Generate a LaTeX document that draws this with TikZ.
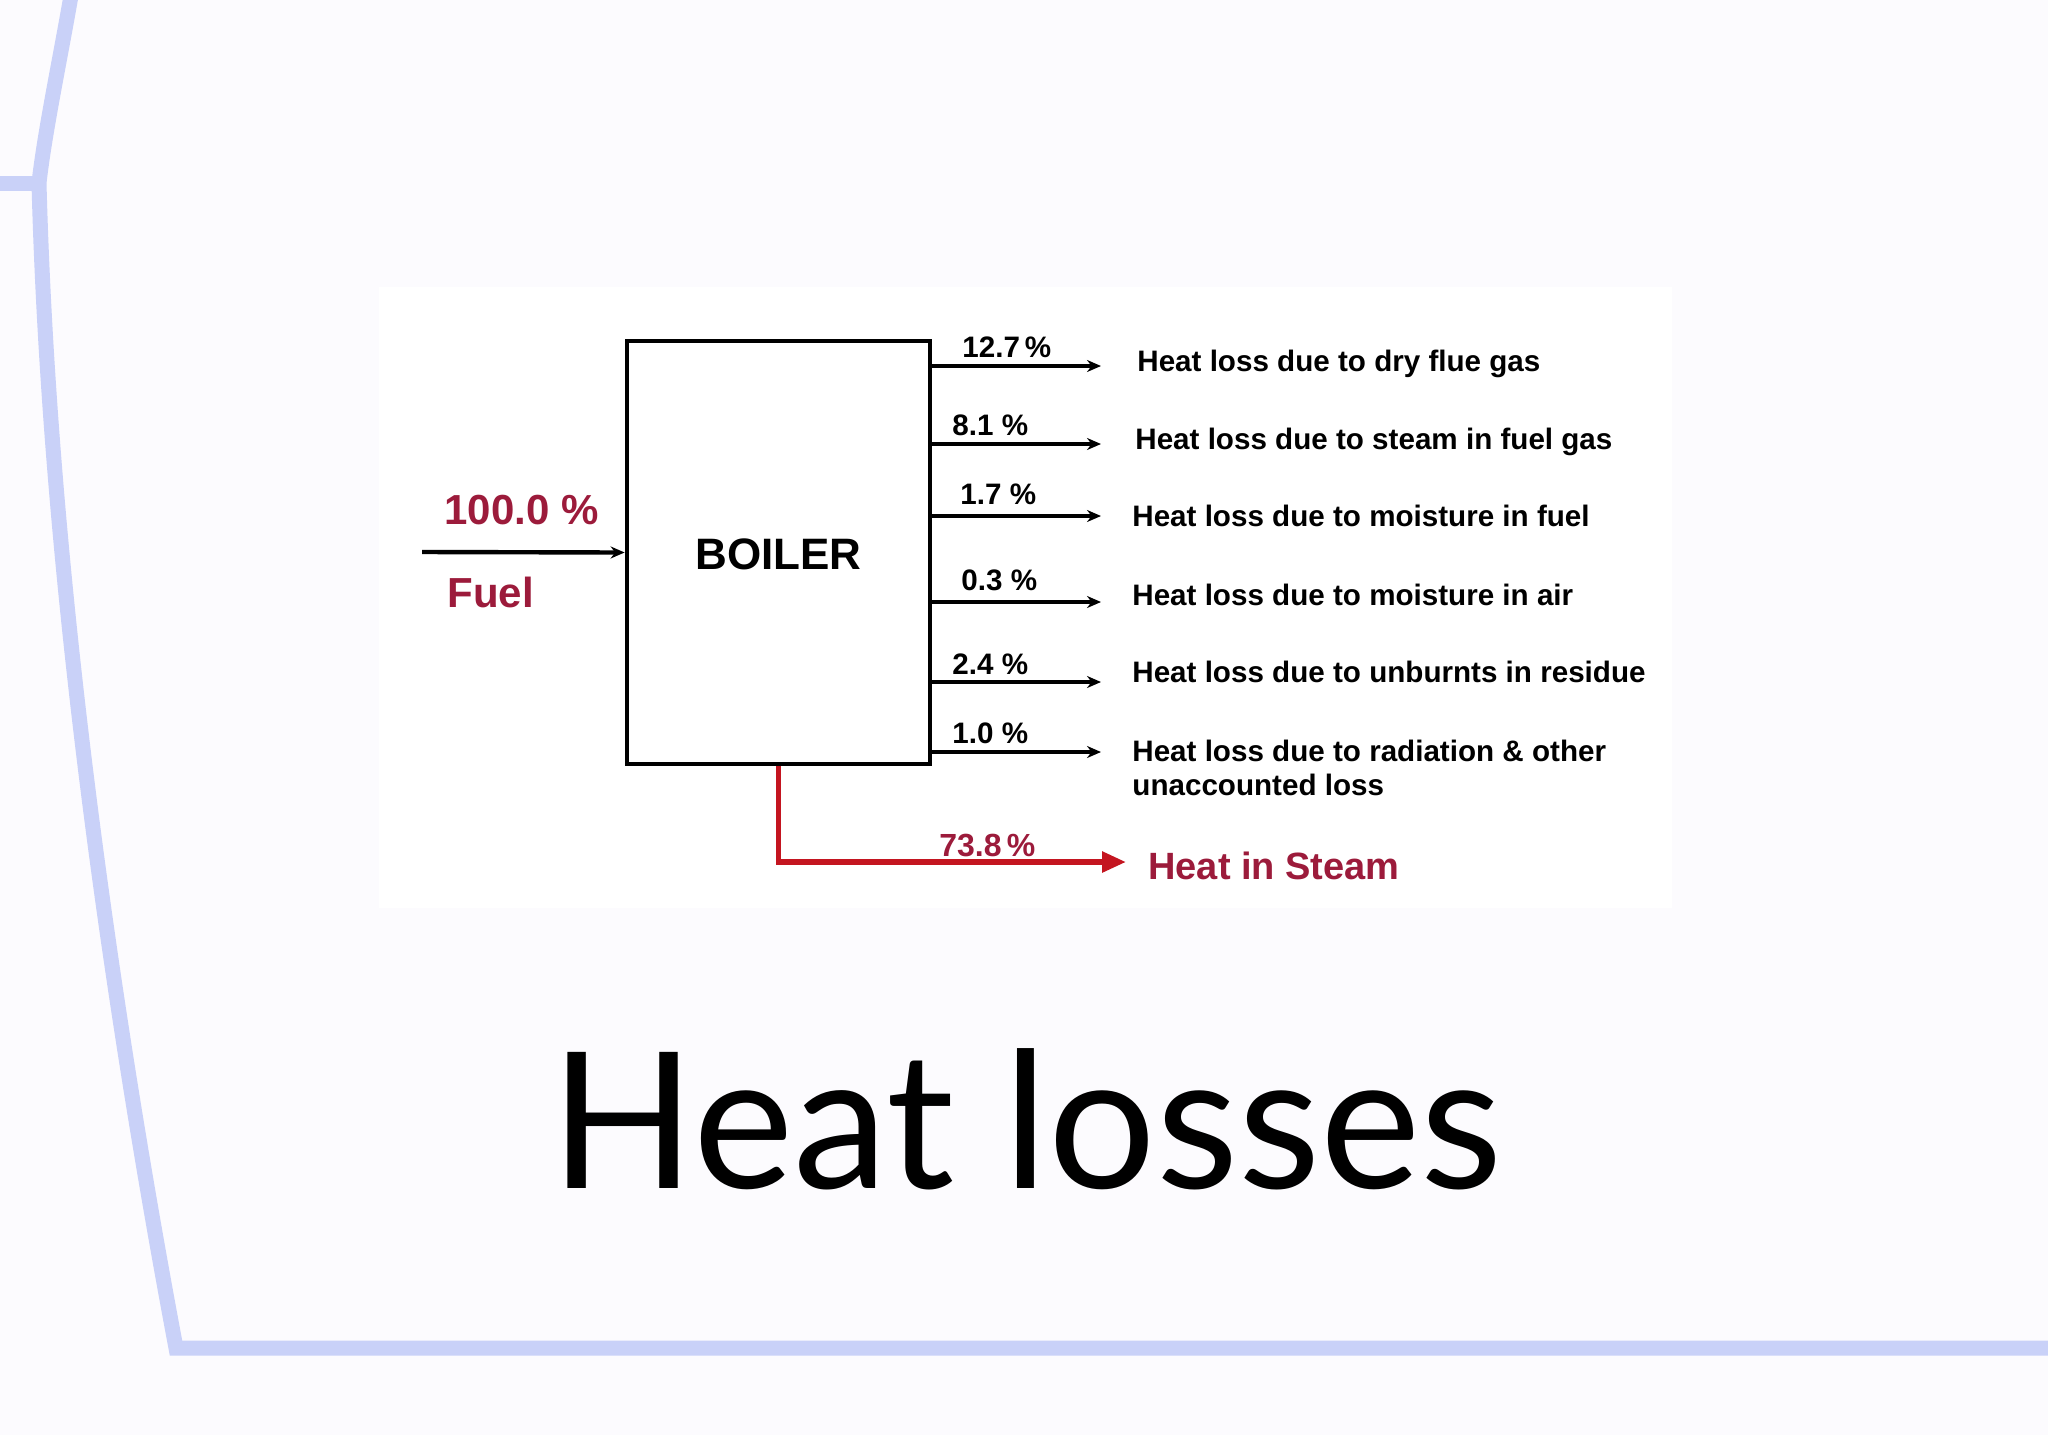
\documentclass[tikz,border=0pt]{standalone}
\usepackage{fontspec}
\setmainfont{Liberation Sans}
\newfontfamily\titlefont{Lato}
\usetikzlibrary{arrows.meta}
\definecolor{bgc}{HTML}{FCFBFE}
\definecolor{framec}{HTML}{C9D1F8}
\definecolor{maroonc}{HTML}{9C1B3B}
\definecolor{steamc}{HTML}{C41520}
\begin{document}
\begin{tikzpicture}[x=0.5pt,y=-0.5pt,
  lbl/.style={font=\bfseries\fontsize{14.8}{17}\selectfont, inner sep=0pt, anchor=base west},
  redlbl/.style={font=\bfseries\fontsize{21}{25}\selectfont, text=maroonc, inner sep=0pt, anchor=base west},
  lossarrow/.style={-{Stealth[length=7pt,width=6pt]}, line width=1.9pt},
  fuelarrow/.style={-{Stealth[length=7pt,width=6pt]}, line width=2.2pt},
  steamarrow/.style={-{Triangle[length=12pt,width=10pt]}, line width=2.8pt, draw=steamc},
  boilerbox/.style={draw, line width=2.4pt, minimum width=151.5pt, minimum height=211.5pt, inner sep=0pt},
  framestroke/.style={draw=framec, line width=7.5pt}]
\useasboundingbox (0,0) rectangle (2048,1435);
\fill[bgc] (0,0) rectangle (2048,1435);
\fill[white] (379,287) rectangle (1672,908);
% slide frame
\draw[framestroke] (72,-10) .. controls (60,60) and (45,130) .. (39,183) .. controls (50,600) and (120,1050) .. (176,1348) -- (2070,1348);
\draw[framestroke] (-10,183) -- (39,183);
% boiler
\node[boilerbox] (boiler) at (778.5,552.5) {};
\node[font=\bfseries\fontsize{22}{26}\selectfont, inner sep=0pt, anchor=base] (boilertxt) at (778.5,569) {BOILER};
% fuel
\coordinate (fuelstart) at (422,552);
\draw[fuelarrow] (fuelstart) -- (boiler.west);
\node[redlbl] (pctin) at (444,524) {100.0 \%};
\node[redlbl] (fuel) at (447,607) {Fuel};
% losses
\coordinate (e1) at (1101,366);
\coordinate (e2) at (1101,444);
\coordinate (e3) at (1101,516);
\coordinate (e4) at (1101,602);
\coordinate (e5) at (1101,682);
\coordinate (e6) at (1101,752);
\foreach \i in {1,...,6} {\draw[lossarrow] (boiler.east |- e\i) -- (e\i);}
\node[lbl] (p1) at (962,357) {12.7\,\%};
\node[lbl] (p2) at (952,435) {8.1 \%};
\node[lbl] (p3) at (960,504) {1.7 \%};
\node[lbl] (p4) at (961,590) {0.3 \%};
\node[lbl] (p5) at (952,674) {2.4 \%};
\node[lbl] (p6) at (952,743) {1.0 \%};
\node[lbl] (t1) at (1137,371) {Heat loss due to dry flue gas};
\node[lbl] (t2) at (1135,449) {Heat loss due to steam in fuel gas};
\node[lbl] (t3) at (1132,526) {Heat loss due to moisture in fuel};
\node[lbl] (t4) at (1132,605) {Heat loss due to moisture in air};
\node[lbl] (t5) at (1132,682) {Heat loss due to unburnts in residue};
\node[lbl, align=left, anchor=north west] (t6) at (1132,740) {Heat loss due to radiation \& other\\[0pt]unaccounted loss};
% steam
\coordinate (e7) at (1126,862);
\draw[steamarrow] (boiler.south) |- (e7);
\node[lbl, text=maroonc, font=\bfseries\fontsize{16}{19}\selectfont] (p7) at (939,856) {73.8\,\%};
\node[font=\bfseries\fontsize{19}{23}\selectfont, text=maroonc, inner sep=0pt, anchor=base west] (steam) at (1148,879) {Heat in Steam};
% title
\node[font=\titlefont\fontsize{95}{105}\selectfont, inner sep=0pt, anchor=base] (title) at (1027,1188) {Heat losses};
\end{tikzpicture}
\end{document}
